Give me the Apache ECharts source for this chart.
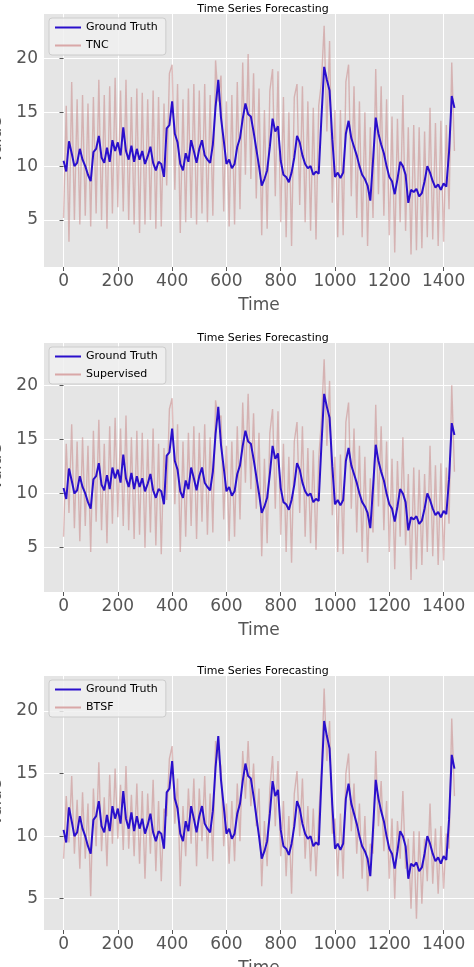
<!DOCTYPE html>
<html>
<head>
<meta charset="utf-8">
<script src="https://cdn.jsdelivr.net/npm/echarts@6/dist/echarts.min.js"></script>
<style>html,body{margin:0;padding:0;background:#fff}#container{width:474px;height:967px}</style>
</head>
<body>
<div id="container"></div>
<script>
// ground truth, sampled every 10 time steps
var groundTruth = [
  10.5,9.5,12.3,11.2,10,10.3,11.6,10.6,10,9.2,
  8.6,11.3,11.6,12.8,10.8,10.3,11.7,10.4,12.4,11.4,
  12.2,11,13.6,11.4,10.6,11.9,10.4,11.6,10.6,11.4,
  10.2,10.9,11.8,10.3,9.6,10.4,10.2,9,13.5,13.8,
  16,13,12.2,10.2,9.6,11.2,10.4,12.4,11.4,10.3,
  11.6,12.4,11,10.6,10.3,12,15.5,18,14.5,12.4,
  10.2,10.6,9.8,10.2,11.8,12.6,14.4,15.8,14.8,14.6,
  13.2,11.6,10,8.2,8.8,9.6,11.8,14.4,13.2,13.7,
  10.5,9.2,9,8.5,9.4,10.8,12.8,12.2,11,10.2,
  9.8,10,9.2,9.5,9.3,14.5,19.2,18,17,12.5,
  9,9.4,8.9,9.4,13,14.2,12.6,11.8,11,10,
  9.2,8.8,8.2,6.8,10.5,14.5,13,12,11.2,10,
  9,8.6,7.4,8.8,10.4,10,9.2,6.6,7.8,7.6,
  7.9,7.2,7.5,8.6,10,9.4,8.6,8,8.3,7.8,
  8.4,8.1,11.3,16.5,15.4
];
var tncPred = [
  5.2,15.6,3.0,17.8,5.0,16.2,4.6,16.6,5.4,15.8,
  4.4,16.4,5.6,18.0,5.0,16.6,4.2,17.4,5.6,18.2,
  6.2,17.0,5.8,18.0,5.0,16.4,4.6,17.2,3.8,16.8,
  4.6,16.2,5.0,17.0,4.2,16.4,4.4,15.8,8.2,18.6,
  19.4,7.8,17.6,3.8,16.2,4.8,17.2,5.2,17.6,4.6,
  17.0,5.6,17.6,4.8,16.6,5.4,19.8,16.0,18.4,5.8,
  16.0,4.4,16.6,4.6,17.8,6.0,19.6,9.2,20.4,8.8,
  18.6,7.0,17.2,3.6,15.2,4.2,17.0,19.0,7.2,18.8,
  4.8,16.4,3.4,15.0,2.6,16.4,17.6,6.4,17.4,4.8,
  16.0,4.0,15.4,3.2,15.6,17.8,23.0,13.2,21.6,6.6,
  15.2,3.4,15.2,3.6,17.8,19.4,7.2,17.4,5.2,16.0,
  3.4,15.0,2.6,13.6,5.2,19.0,7.4,17.4,5.4,16.2,
  3.6,14.6,2.0,14.4,4.8,16.6,4.0,13.6,1.8,13.8,
  2.2,13.6,2.4,13.2,3.4,15.4,3.2,14.0,2.6,14.2,
  3.0,13.8,6.0,19.6,11.4
];
var supervisedPred = [
  6.0,14.6,8.2,16.4,6.8,14.8,5.6,15.2,7.0,14.4,
  4.6,15.8,7.4,16.8,6.6,14.6,5.4,16.2,7.2,17.0,
  7.8,16.0,7.0,17.2,6.6,15.2,5.8,15.8,6.2,15.6,
  5.0,15.0,6.4,16.0,5.2,14.6,4.4,14.2,9.4,17.8,
  18.8,9.0,16.4,4.6,14.8,6.0,15.6,7.0,16.2,5.8,
  15.6,7.4,16.4,6.2,15.2,6.4,18.6,16.8,17.2,7.6,
  14.4,5.6,14.8,6.0,16.2,7.6,18.4,11.0,19.2,10.4,
  17.4,8.6,15.6,4.2,13.2,5.4,15.6,17.8,8.6,17.6,
  6.2,14.6,4.6,13.4,3.6,14.8,16.6,8.2,16.2,6.0,
  14.2,5.4,14.0,4.8,13.2,16.8,22.4,14.4,20.4,8.0,
  13.4,4.6,13.6,4.4,16.6,18.4,8.6,16.0,6.4,14.4,
  4.6,13.4,3.6,11.4,6.4,18.2,8.8,16.2,6.6,14.8,
  4.6,13.2,3.0,13.0,6.0,15.2,5.2,11.8,2.0,12.4,
  3.0,12.2,3.4,11.8,4.6,14.4,4.2,12.6,3.4,12.8,
  3.8,12.4,7.2,20.0,12.0
];
var btsfPred = [
  8.2,13.2,9.5,14.8,8.6,12.9,7.4,13.5,8.2,12.6,
  5.2,13.8,9.2,15.9,8.8,13.1,7.6,14.9,9.4,15.4,
  9.8,14.1,8.9,15.6,9.0,13.3,8.4,14.2,7.8,13.6,
  6.6,13.4,8.6,14.5,7.2,12.8,6.4,12.2,11.6,16.2,
  17.2,11.0,14.6,6.0,12.4,8.4,13.8,9.4,14.6,7.6,
  13.8,9.6,14.8,8.2,13.4,8.0,17.6,16.4,15.6,9.2,
  12.6,7.8,12.8,8.0,14.2,9.6,16.8,13.0,17.6,12.4,
  15.8,10.8,13.8,6.0,11.2,7.6,13.8,16.4,10.8,16.0,
  8.4,12.8,6.8,11.6,5.4,13.4,15.2,10.0,14.6,8.2,
  12.4,7.2,12.2,6.8,11.6,15.2,21.8,16.0,19.2,10.2,
  11.4,6.8,11.8,6.6,15.0,16.6,10.4,14.2,8.6,12.6,
  6.6,11.6,5.6,9.4,8.6,16.8,10.8,14.4,8.8,12.8,
  6.6,11.4,5.0,11.2,8.2,13.6,7.4,9.8,4.2,10.4,
  3.4,10.4,4.6,9.8,6.4,12.6,6.2,10.6,5.4,10.8,
  5.8,10.2,9.0,19.4,13.2
];
var timeStep = 10;
var xTicks = [0, 200, 400, 600, 800, 1000, 1200, 1400];
var yTicks = [5, 10, 15, 20];
var predNames = ['TNC', 'Supervised', 'BTSF'];
var preds = [tncPred, supervisedPred, btsfPred];

function pairs(arr) {
  return arr.map(function (v, i) { return [i * timeStep, v]; });
}

var panels = [
  { top: 14, height: 253, ymin: 0.65, ymax: 24.1 },
  { top: 343, height: 249, ymin: 0.9, ymax: 23.9 },
  { top: 676, height: 254, ymin: 2.5, ymax: 22.8 }
];

var font = 'DejaVu Sans';
var option = { animation: false, title: [], grid: [], xAxis: [], yAxis: [], legend: [], series: [] };

panels.forEach(function (p, k) {
  option.title.push({
    text: 'Time Series Forecasting', left: 258, top: p.top - 15, textAlign: 'center',
    textStyle: { fontSize: 11, fontWeight: 'normal', color: '#000', fontFamily: font }
  });
  option.grid.push({ left: 44, right: 0, top: p.top, height: p.height, backgroundColor: '#e5e5e5', show: true, borderWidth: 0,
    containLabel: false, outerBoundsMode: 'none' });
  option.xAxis.push({
    type: 'value', gridIndex: k, min: -72, max: 1512,
    name: 'Time', nameLocation: 'middle', nameGap: 30,
    nameTextStyle: { fontSize: 17, color: '#555', fontFamily: font },
    axisLine: { show: false },
    axisTick: { show: true, length: 4, lineStyle: { color: '#555' }, customValues: xTicks },
    axisLabel: { fontSize: 17, color: '#555', fontFamily: font, margin: 6, customValues: xTicks,
      formatter: function (v) { return String(v); } },
    splitLine: { show: true, lineStyle: { color: '#fff', width: 1 } }
  });
  option.yAxis.push({
    type: 'value', gridIndex: k, min: p.ymin, max: p.ymax,
    name: 'Value', nameLocation: 'middle', nameGap: 30,
    nameTextStyle: { fontSize: 17, color: '#555', fontFamily: font },
    axisLine: { show: false },
    axisTick: { show: true, length: 4, lineStyle: { color: '#555' }, customValues: yTicks },
    axisLabel: { fontSize: 17, color: '#555', fontFamily: font, margin: 6, customValues: yTicks },
    splitLine: { show: true, lineStyle: { color: '#fff', width: 1 } }
  });
  option.legend.push({
    orient: 'vertical', left: 49, top: p.top + 4, itemWidth: 26, itemHeight: 2, itemGap: 7,
    padding: [4, 8, 4, 6], backgroundColor: 'rgba(240,240,240,0.85)', borderColor: '#ccc', borderWidth: 1, borderRadius: 3,
    textStyle: { fontSize: 11, color: '#000', fontFamily: font },
    data: [
      { name: 'Ground Truth', icon: 'rect', itemStyle: { color: '#2a0fcc' } },
      { name: predNames[k], icon: 'rect', itemStyle: { color: '#d9a7a7' } }
    ]
  });
  option.series.push({
    name: predNames[k], type: 'line', xAxisIndex: k, yAxisIndex: k, data: pairs(preds[k]),
    showSymbol: false, lineStyle: { color: '#c98888', width: 1.4, opacity: 0.55 }, itemStyle: { color: '#d9a7a7' }, z: 2
  });
  option.series.push({
    name: 'Ground Truth', type: 'line', xAxisIndex: k, yAxisIndex: k, data: pairs(groundTruth),
    showSymbol: false, lineStyle: { color: '#2a0fcc', width: 2 }, itemStyle: { color: '#2a0fcc' }, z: 3
  });
});

var myChart = echarts.init(document.getElementById('container'), null, { renderer: 'canvas' });
myChart.setOption(option);
</script>
</body>
</html>
